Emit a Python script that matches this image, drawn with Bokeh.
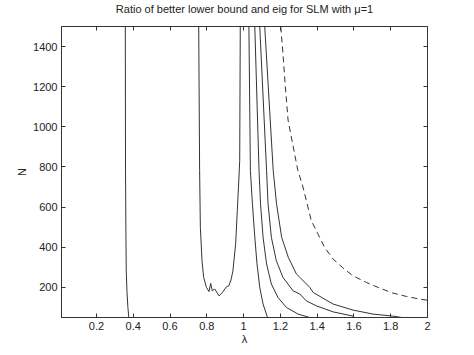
from bokeh.plotting import figure
from bokeh.models import LinearAxis, FixedTicker, Range1d, CustomLabelingPolicy
from bokeh.embed import file_html
from bokeh.resources import INLINE

# --- data (lambda, N) ---
c1_lam = [0.357, 0.358, 0.360, 0.362, 0.366, 0.371, 0.376]
c1_N = [1500, 800, 500, 283, 180, 100, 50]

c2_lam = [0.756, 0.761, 0.765, 0.774, 0.783, 0.798, 0.812, 0.821, 0.830, 0.843,
          0.867, 0.885, 0.898, 0.907, 0.920, 0.933, 0.942, 0.957, 0.966, 0.975,
          0.979, 0.982]
c2_N = [1500, 783, 500, 333, 250, 200, 179, 220, 183, 192,
        158, 175, 192, 203, 208, 242, 283, 418, 583, 750,
        833, 1500]

c3_lam = [1.029, 1.037, 1.048, 1.061, 1.073, 1.088, 1.106, 1.130]
c3_N = [1500, 783, 617, 450, 317, 200, 117, 50]

c4_lam = [1.061, 1.084, 1.092, 1.106, 1.125, 1.151, 1.187, 1.233, 1.296, 1.360]
c4_N = [1500, 783, 617, 450, 317, 217, 150, 100, 67, 50]

c5_lam = [1.088, 1.125, 1.133, 1.151, 1.178, 1.214, 1.269, 1.306, 1.341, 1.396,
          1.487, 1.595, 1.604]
c5_N = [1500, 783, 617, 450, 333, 250, 183, 167, 133, 108, 78, 57, 50]

c6_lam = [1.115, 1.161, 1.179, 1.207, 1.243, 1.287, 1.306, 1.360, 1.378, 1.432,
          1.487, 1.595, 1.703, 1.811, 1.860]
c6_N = [1500, 783, 617, 450, 350, 267, 250, 200, 175, 146, 117, 87, 67, 57, 50]

dash_lam = [1.202, 1.214, 1.227, 1.242, 1.277, 1.295, 1.323, 1.368, 1.404, 1.440,
            1.486, 1.540, 1.594, 1.667, 1.739, 1.811, 1.885, 1.956, 2.0]
dash_N = [1500, 1367, 1200, 1033, 867, 783, 700, 533, 467, 400,
          342, 297, 258, 225, 197, 172, 155, 142, 136]

x_ticks = [0.2, 0.4, 0.6, 0.8, 1.0, 1.2, 1.4, 1.6, 1.8, 2.0]
y_ticks = [200, 400, 600, 800, 1000, 1200, 1400]

FONT = "Liberation Sans"

p = figure(
    frame_width=366, frame_height=291,
    min_border_left=61, min_border_right=40, min_border_top=18, min_border_bottom=30,
    x_range=Range1d(0.01, 2.0), y_range=Range1d(50, 1500),
    output_backend="svg", toolbar_location=None,
    title="Ratio of better lower bound and eig for SLM with \u03bc=1",
)
p.title.text_font = FONT
p.title.text_font_size = "11px"
p.title.text_font_style = "normal"
p.title.align = "center"
p.title.standoff = 1
p.title.text_color = "#222222"

p.grid.visible = False
p.outline_line_color = "#333333"
p.outline_line_width = 1
p.background_fill_color = "white"
p.border_fill_color = "white"

def style_axis(ax):
    ax.major_tick_in = 4
    ax.major_tick_out = 0
    ax.minor_tick_line_color = None
    ax.axis_line_color = "#333333"
    ax.major_tick_line_color = "#333333"
    ax.major_label_text_font = FONT
    ax.major_label_text_font_size = "11px"
    ax.major_label_text_color = "#222222"
    ax.major_label_standoff = 4
    ax.axis_label_text_font = FONT
    ax.axis_label_text_font_size = "11px"
    ax.axis_label_text_font_style = "normal"
    ax.axis_label_text_color = "#222222"

p.xaxis.ticker = FixedTicker(ticks=x_ticks)
p.yaxis.ticker = FixedTicker(ticks=y_ticks)
p.xaxis.axis_label = "\u03bb"
p.yaxis.axis_label = "N"
style_axis(p.xaxis[0])
style_axis(p.yaxis[0])
p.xaxis.axis_label_standoff = 0
p.yaxis.axis_label_standoff = 2

no_labels = CustomLabelingPolicy(
    code="for (const i of Array.from(indices)) { indices.unset(i) } return indices")

top = LinearAxis(ticker=FixedTicker(ticks=x_ticks), major_label_policy=no_labels)
style_axis(top)
top.axis_line_color = None
top.major_label_standoff = 0
p.add_layout(top, "above")
right = LinearAxis(ticker=FixedTicker(ticks=y_ticks), major_label_policy=no_labels)
style_axis(right)
right.axis_line_color = None
right.major_label_standoff = 0
p.add_layout(right, "right")

col = "#333333"
for xs, ys in [(c1_lam, c1_N), (c2_lam, c2_N), (c3_lam, c3_N), (c4_lam, c4_N),
               (c5_lam, c5_N), (c6_lam, c6_N)]:
    p.line(xs, ys, line_color=col, line_width=1)
p.line(dash_lam, dash_N, line_color=col, line_width=1, line_dash="6 4")

open("out.html", "w").write(file_html(p, INLINE))
